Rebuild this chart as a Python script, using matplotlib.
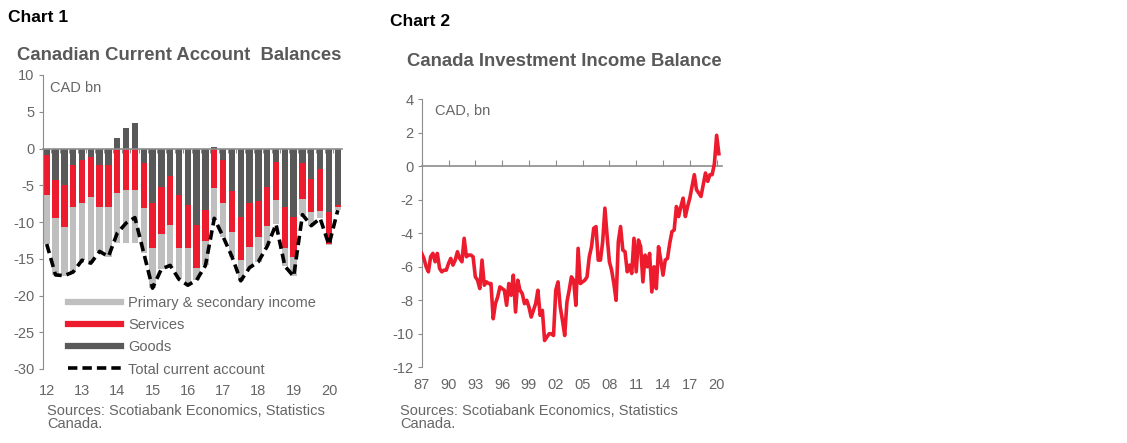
import numpy as np
import matplotlib
matplotlib.use("Agg")
import matplotlib.pyplot as plt
from matplotlib.lines import Line2D

plt.rcParams['font.family'] = ['Liberation Sans', 'DejaVu Sans']
plt.rcParams['axes.unicode_minus'] = False

# ---- Chart 1 data: quarterly 2012Q1 - 2020Q2, CAD bn ----
goods = [-0.9, -4.3, -5.0, -2.25, -1.5, -1.1, -2.25, -2.25,
         1.4, 2.75, 3.5, -2.0, -7.45, -5.2, -3.8, -6.3,
         -7.7, -10.4, -8.4, 0.2, -1.6, -5.8, -9.3, -7.45,
         -7.2, -5.2, -1.8, -7.9, -9.3, -2.0, -4.1, -2.85,
         -8.65, -7.75]
services = [-5.45, -5.2, -5.7, -5.65, -5.95, -5.55, -5.65, -5.65,
            -6.0, -5.7, -5.65, -6.15, -6.15, -6.4, -6.6, -7.3,
            -5.9, -5.9, -4.2, -5.4, -5.75, -5.5, -5.9, -5.95,
            -4.8, -5.4, -5.2, -5.7, -5.4, -4.9, -4.5, -5.6,
            -4.4, -0.15]
primary = [-6.65, -7.7, -6.6, -8.9, -7.75, -8.95, -6.1, -6.8,
           -6.9, -7.2, -7.25, -6.05, -5.4, -4.8, -5.5, -4.2,
           -5.0, -1.6, -3.3, -4.3, -4.65, -3.4, -2.8, -2.8,
           -3.4, -2.7, -3.3, -2.4, -2.7, -2.1, -1.9, -1.05,
           -0.1, -0.5]
total = [-13.0, -17.2, -17.3, -16.8, -15.2, -15.6, -14.0, -14.7,
         -11.5, -10.15, -9.4, -14.2, -19.0, -16.4, -15.9, -17.8,
         -18.6, -17.9, -15.9, -9.5, -12.0, -14.7, -18.0, -16.2,
         -15.4, -13.3, -10.3, -16.0, -17.4, -9.0, -10.5, -9.5,
         -13.1, -8.4]
year_labels1 = ['12', '13', '14', '15', '16', '17', '18', '19', '20']

# ---- Chart 2 data: quarterly 1987Q1 - 2020Q2, CAD bn ----
inv_income = [
    -5.2, -5.5, -6.0, -6.3, -5.4, -5.2, -5.7, -5.2, -6.1, -6.3,
    -6.2, -6.2, -5.8, -5.5, -5.9, -5.6, -5.1, -5.5, -5.7, -4.3,
    -5.4, -5.3, -5.3, -5.4, -6.6, -6.8, -7.3, -5.6, -7.1, -6.9,
    -7.0, -7.0, -9.1, -8.2, -7.8, -7.2, -7.3, -7.4, -8.3, -7.0,
    -7.7, -6.5, -8.7, -6.8, -7.4, -7.6, -8.2, -8.0, -8.4, -9.0,
    -8.6, -8.2, -7.4, -8.9, -8.6, -10.4, -10.2, -10.0, -10.0, -10.1,
    -7.4, -6.9, -8.4, -9.2, -10.1, -8.1, -7.4, -6.6, -6.8, -8.3,
    -4.9, -7.0, -6.9, -6.8, -6.6, -5.4, -4.8, -3.7, -3.6, -5.6,
    -5.6, -4.5, -2.5, -4.2, -5.7, -6.2, -7.0, -8.0, -4.5, -3.6,
    -5.0, -5.1, -6.3, -5.9, -6.4, -4.3, -6.3, -4.4, -4.8, -6.9,
    -5.3, -6.0, -5.2, -7.5, -6.0, -7.3, -4.8, -5.6, -6.5, -5.6,
    -5.5, -4.6, -3.9, -3.8, -2.4, -3.0, -2.4, -1.9, -3.0, -2.4,
    -1.9, -1.2, -0.5, -1.4, -1.6, -1.8, -1.1, -0.4, -0.9, -0.5,
    -0.5, 0.16, 1.85, 0.75]
year_ticks2 = [1987, 1990, 1993, 1996, 1999, 2002, 2005, 2008, 2011, 2014, 2017, 2020]
year_labels2 = ['87', '90', '93', '96', '99', '02', '05', '08', '11', '14', '17', '20']

LIGHT = '#bfbfbf'
RED = '#ec1c2e'
DARK = '#595959'
TXT = '#666666'
AXC = '#8c8c8c'

W, H = 1127, 443
fig = plt.figure(figsize=(W / 100, H / 100), dpi=100)


def fx(px):
    return px / W


def fy(py):
    return 1 - py / H


# ---------------- Chart 1 ----------------
ax1 = fig.add_axes([fx(43), fy(369), (342 - 43) / W, (369 - 75) / H])
x = np.arange(len(goods))
g = np.array(goods)
s = np.array(services)
p = np.array(primary)
neg_base = np.minimum(g, 0)
bw = 0.72
ax1.bar(x, g, width=bw, color=DARK, zorder=2)
ax1.bar(x, s, bottom=neg_base, width=bw, color=RED, zorder=2)
ax1.bar(x, p, bottom=neg_base + s, width=bw, color=LIGHT, zorder=2)
ax1.plot(x, total, color='black', lw=2.6, linestyle=(0, (2.6, 1.4)), zorder=3)

ax1.set_xlim(-0.42, 33.48)
ax1.set_ylim(-30, 10)
ax1.set_yticks(np.arange(-30, 11, 5))
ax1.tick_params(axis='y', colors=AXC, labelcolor=TXT, labelsize=10.5,
                length=3, direction='out', pad=3)
for sp in ['top', 'right']:
    ax1.spines[sp].set_visible(False)
ax1.spines['left'].set_color(AXC)
ax1.spines['bottom'].set_position(('data', 0))
ax1.spines['bottom'].set_color(AXC)
ax1.spines['bottom'].set_linewidth(1.2)
ax1.set_xticks(x[:-1] + 0.5)
ax1.tick_params(axis='x', colors=AXC, length=3, direction='out', labelbottom=False)
sec1 = ax1.secondary_xaxis('bottom')
sec1.set_xticks(x[::4])
sec1.set_xticklabels(year_labels1)
sec1.tick_params(length=0, labelsize=10.5, labelcolor=TXT, pad=11)
sec1.spines['bottom'].set_visible(False)

ax1.text(0.025, 0.955, 'CAD bn', transform=ax1.transAxes, color=TXT,
         fontsize=10.5, va='center', ha='left')

handles = [Line2D([], [], color=LIGHT, lw=4.5),
           Line2D([], [], color=RED, lw=4.5),
           Line2D([], [], color=DARK, lw=4.5),
           Line2D([], [], color='black', lw=2.6, linestyle=(0, (2.6, 1.4)))]
labels = ['Primary & secondary income', 'Services', 'Goods', 'Total current account']
leg = ax1.legend(handles, labels, loc='upper left', bbox_to_anchor=(0.085, 0.248),
                 frameon=False, fontsize=10.5, handlelength=3.6, handletextpad=0.5,
                 labelspacing=0.56, borderpad=0, borderaxespad=0)
for t in leg.get_texts():
    t.set_color(TXT)

fig.text(fx(8), fy(18), 'Chart 1', fontsize=12.5, fontweight='bold', color='black',
         va='center', ha='left')
fig.text(fx(179), fy(55), 'Canadian Current Account  Balances', fontsize=13.3,
         fontweight='bold', color=DARK, va='center', ha='center')
fig.text(fx(47), fy(417.5), 'Sources: Scotiabank Economics, Statistics\nCanada.',
         fontsize=10.5, color=TXT, va='center', ha='left', linespacing=0.95)

# ---------------- Chart 2 ----------------
ax2 = fig.add_axes([fx(421.7), fy(367.3), (722 - 421.7) / W, (367.3 - 99.3) / H])
t2 = 1987 + np.arange(len(inv_income)) / 4
ax2.plot(t2, inv_income, color=RED, lw=2.6, solid_joinstyle='round', zorder=3)
ax2.set_xlim(1987, 2020.6)
ax2.set_ylim(-12, 4)
ax2.set_yticks(np.arange(-12, 5, 2))
ax2.tick_params(axis='y', colors=AXC, labelcolor=TXT, labelsize=10.5,
                length=3, direction='out', pad=3)
for sp in ['top', 'right']:
    ax2.spines[sp].set_visible(False)
ax2.spines['left'].set_color(AXC)
ax2.spines['bottom'].set_position(('data', 0))
ax2.spines['bottom'].set_color(AXC)
ax2.spines['bottom'].set_linewidth(1.2)
ax2.set_xticks(year_ticks2)
ax2.tick_params(axis='x', colors=AXC, length=4, direction='in', labelbottom=False)
sec2 = ax2.secondary_xaxis('bottom')
sec2.set_xticks(year_ticks2)
sec2.set_xticklabels(year_labels2)
sec2.tick_params(length=0, labelsize=10.5, labelcolor=TXT, pad=8)
sec2.spines['bottom'].set_visible(False)

ax2.text(0.045, 0.955, 'CAD, bn', transform=ax2.transAxes, color=TXT,
         fontsize=10.5, va='center', ha='left')

fig.text(fx(390), fy(22), 'Chart 2', fontsize=12.5, fontweight='bold', color='black',
         va='center', ha='left')
fig.text(fx(564), fy(61), 'Canada Investment Income Balance', fontsize=13.3,
         fontweight='bold', color=DARK, va='center', ha='center')
fig.text(fx(400), fy(417.5), 'Sources: Scotiabank Economics, Statistics\nCanada.',
         fontsize=10.5, color=TXT, va='center', ha='left', linespacing=0.95)

fig.savefig('out.png', dpi=100)
